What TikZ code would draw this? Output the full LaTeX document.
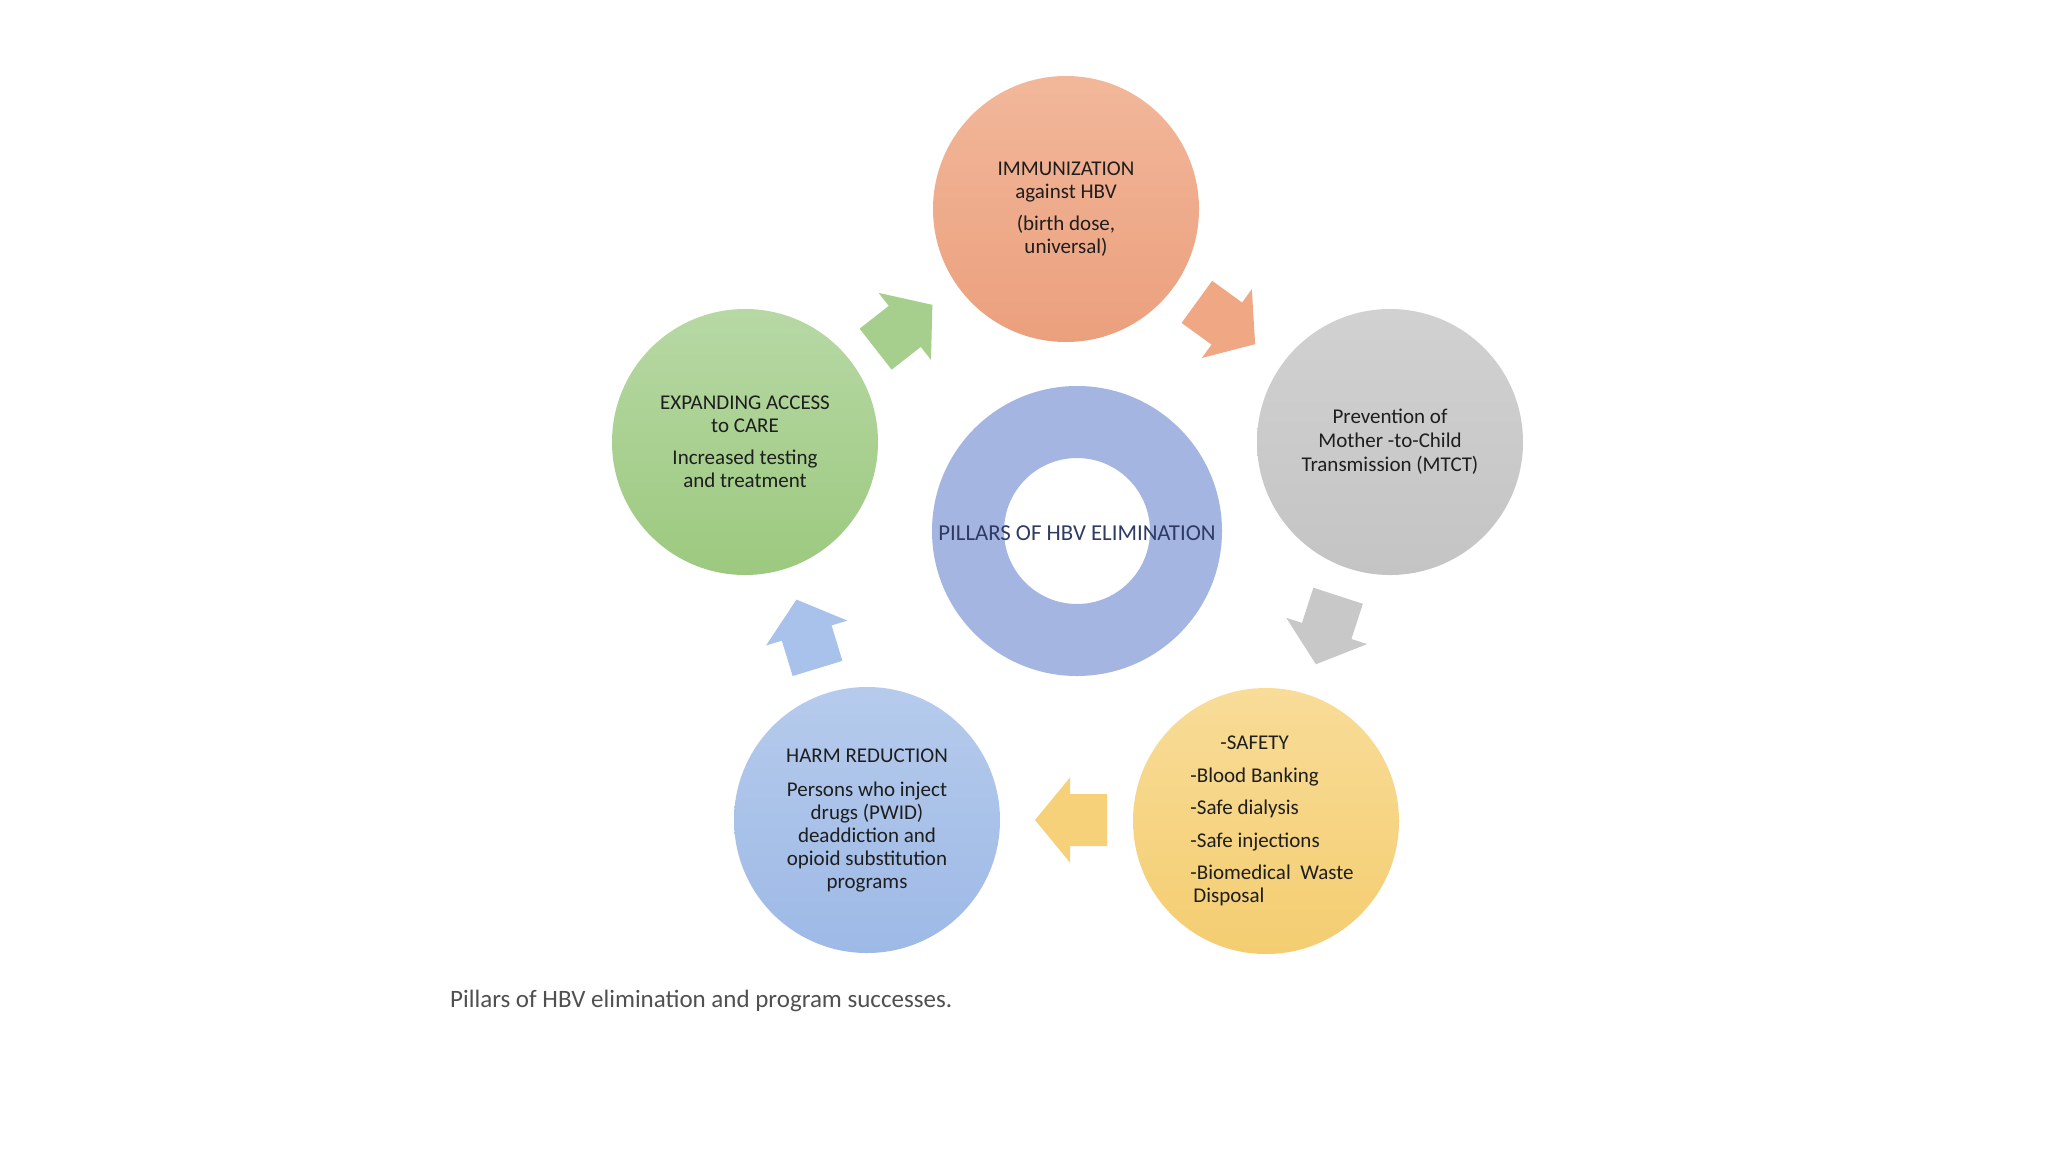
\documentclass[tikz,border=0pt]{standalone}
\usepackage{fontspec}
\setmainfont{Carlito}
\usetikzlibrary{calc}
\definecolor{txt}{HTML}{1E1E1E}
\definecolor{capc}{HTML}{505050}
\definecolor{titlec}{HTML}{2F3B63}
\definecolor{orT}{HTML}{F2B79A}
\definecolor{orB}{HTML}{EBA07D}
\definecolor{grT}{HTML}{D1D1D1}
\definecolor{grB}{HTML}{C4C4C4}
\definecolor{yeT}{HTML}{F8DC98}
\definecolor{yeB}{HTML}{F4CD70}
\definecolor{blT}{HTML}{B6CBEC}
\definecolor{blB}{HTML}{9DB9E6}
\definecolor{gnT}{HTML}{B7D8A4}
\definecolor{gnB}{HTML}{9CC97F}
\definecolor{ringc}{HTML}{A4B5E2}
\definecolor{arG}{HTML}{A6CE8C}
\definecolor{arO}{HTML}{EFA784}
\definecolor{arY}{HTML}{C8C8C8}
\definecolor{arW}{HTML}{F7D07A}
\definecolor{arB}{HTML}{A8C2EC}
\newcommand{\ind}{\hspace*{12pt}}
\begin{document}
\begin{tikzpicture}[x=1pt,y=-1pt,
  pillar/.style={circle, minimum size=266pt, inner sep=0pt, align=center,
    text=txt, font=\fontsize{21}{23}\selectfont},
  blockarr/.pic={\path[pic actions] (-36,-26) -- (1,-26) -- (1,-42.5) -- (36,0)
     -- (1,42.5) -- (1,26) -- (-36,26) -- cycle;}]
\useasboundingbox[fill=white] (0,0) rectangle (2048,1152);

% centre ring
\coordinate (ctr) at (1077,531);
\fill[ringc, even odd rule] (ctr) circle[radius=145pt] (ctr) circle[radius=73pt];
\node[text=titlec, font=\fontsize{22.8}{26}\selectfont] (title) at (1077,533) {PILLARS OF HBV ELIMINATION};

% pillars
\node[pillar, top color=orT, bottom color=orB] (immun) at (1066,209)
  {IMMUNIZATION\\against HBV\\[9pt](birth dose,\\universal)};
\node[pillar, top color=grT, bottom color=grB, font=\fontsize{21}{24}\selectfont] (mtct) at (1390,442)
  {Prevention of\\Mother -to-Child\\Transmission (MTCT)};
\node[pillar, top color=yeT, bottom color=yeB, align=left] (safety) at (1266,821)
  {\ind\hspace*{30pt}-SAFETY\\[9.5pt]\ind-Blood Banking\\[9.5pt]\ind-Safe dialysis\\[9.5pt]\ind-Safe injections\\[9.5pt]\ind-Biomedical\ \ Waste\\\ind\hspace*{3pt}Disposal};
\node[pillar, top color=blT, bottom color=blB] (harm) at (867,820)
  {HARM REDUCTION\\[11pt]Persons who inject\\drugs (PWID)\\deaddiction and\\opioid substitution\\programs};
\node[pillar, top color=gnT, bottom color=gnB] (access) at (745,442)
  {EXPANDING ACCESS\\to CARE\\[9pt]Increased testing\\and treatment};

% cycle arrows
\coordinate (a1) at (904,327);
\coordinate (a2) at (1226,323);
\coordinate (a3) at (1327,630);
\coordinate (a4) at (1071,820);
\coordinate (a5) at (807,634);
\pic[fill=arG, rotate=38] at (a1) {blockarr};
\pic[fill=arO, rotate=-36] at (a2) {blockarr};
\pic[fill=arY, rotate=-108] at (a3) {blockarr};
\pic[fill=arW, rotate=180] at (a4) {blockarr};
\pic[fill=arB, rotate=107] at (a5) {blockarr};

% caption
\node[anchor=base west, inner sep=0pt, text=capc, font=\fontsize{25}{29}\selectfont] (caption) at (450,1007)
  {Pillars of HBV elimination and program successes.};
\end{tikzpicture}
\end{document}
